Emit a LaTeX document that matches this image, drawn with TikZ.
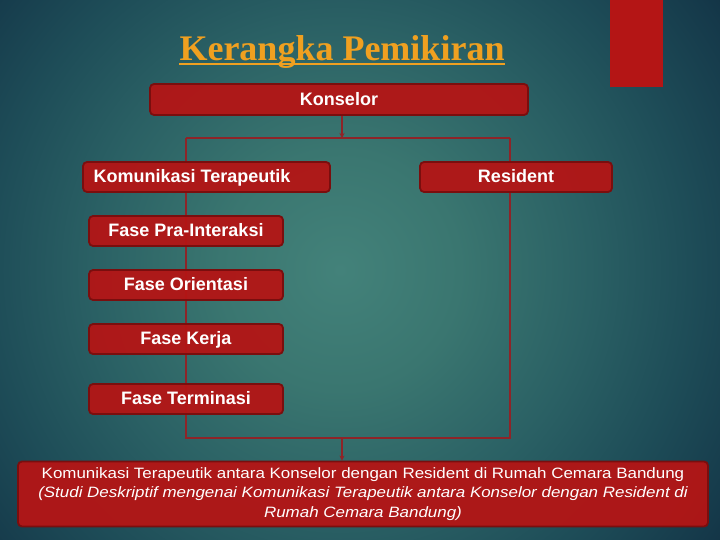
\documentclass[tikz,border=0pt]{standalone}
\usepackage{fontspec}
\setmainfont{Liberation Sans}
\newfontfamily\titlefont{Liberation Serif}
\newfontfamily\widesans[FakeStretch=1.13]{Liberation Sans}
\usetikzlibrary{arrows.meta}
\pgfdeclarelayer{back}
\pgfsetlayers{back,main}
\definecolor{bg0}{HTML}{43827A}
\definecolor{bg1}{HTML}{3A7670}
\definecolor{bg2}{HTML}{2A6064}
\definecolor{bg3}{HTML}{1E4D58}
\definecolor{bg4}{HTML}{15394A}
\definecolor{bg5}{HTML}{123244}
\definecolor{boxred}{HTML}{B41515}
\definecolor{boxedge}{HTML}{7A0E0E}
\definecolor{linered}{HTML}{8E2428}
\definecolor{titleorange}{HTML}{F0A020}
\pgfdeclareradialshading{bgshade}{\pgfpoint{0bp}{0bp}}{color(0bp)=(bg0); color(6.25bp)=(bg1); color(13bp)=(bg2); color(18.2bp)=(bg3); color(23.4bp)=(bg4); color(25bp)=(bg5); color(50bp)=(bg5)}
\tikzset{
  redbox/.style={draw=boxedge, line width=1.8pt, fill=boxred, fill opacity=0.95, text opacity=1,
    rounded corners=4pt, text=white, font=\fontsize{18}{21}\selectfont\bfseries, inner sep=0pt},
  onebox/.style={redbox, text height=12pt, text depth=0.5pt},
  conn/.style={draw=linered, line width=1.2pt},
  tip/.style={-{Stealth[length=5pt,width=5pt]}}
}
\begin{document}
\begin{tikzpicture}[x=1pt,y=-1pt]
\useasboundingbox (0,0) rectangle (720,540);
\begin{pgfonlayer}{back}
\begin{scope}
\clip (0,0) rectangle (720,540);
\fill[bg5] (0,0) rectangle (720,540);
\shade[shading=bgshade] (340,270) circle (480);
\end{scope}
\end{pgfonlayer}
% red bar
\fill[boxred] (610,0) rectangle (663,87);
% title
\node[anchor=base, text=titleorange, font=\titlefont\fontsize{36}{40}\selectfont\bfseries, inner sep=0pt] (title) at (342,61) {Kerangka Pemikiran};
\draw[titleorange, line width=2pt] ([yshift=-3pt]title.base west) -- ([yshift=-3pt]title.base east);
% boxes
\node[onebox, minimum width=378pt, minimum height=31pt] (konselor) at (339,99.5) {Konselor};
\node[onebox, minimum width=247pt, minimum height=30pt] (komter) at (206.5,177) {\makebox[247pt][c]{Komunikasi Terapeutik\hspace{29pt}}};
\node[onebox, minimum width=192pt, minimum height=30pt] (resident) at (516,177) {Resident};
\node[onebox, minimum width=194pt, minimum height=30pt] (pra) at (186,231) {Fase Pra-Interaksi};
\node[onebox, minimum width=194pt, minimum height=30pt] (orient) at (186,285) {Fase Orientasi};
\node[onebox, minimum width=194pt, minimum height=30pt] (kerja) at (186,339) {Fase Kerja};
\node[onebox, minimum width=194pt, minimum height=30pt] (termin) at (186,399) {Fase Terminasi};
\node[redbox, minimum width=690pt, minimum height=65pt, align=center,
  font=\widesans\fontsize{15}{19.3}\selectfont] (hasil) at (363,494)
  {Komunikasi Terapeutik antara Konselor dengan Resident di Rumah Cemara Bandung\\
   \itshape (Studi Deskriptif mengenai Komunikasi Terapeutik antara Konselor dengan Resident di\\
   \itshape Rumah Cemara Bandung)};
% junction coordinates
\coordinate (jtop) at (342,138);
\coordinate (jtl) at (186,138);
\coordinate (jtr) at (510,138);
\coordinate (jbl) at (186,438);
\coordinate (jbr) at (510,438);
\coordinate (jbot) at (342,438);
% connectors (behind the boxes)
\begin{pgfonlayer}{back}
\draw[conn, tip] (konselor.south -| jtop) -- (jtop);
\draw[conn] (jtl) -- (jtr);
\draw[conn] (jtl) -- (komter.north -| jtl);
\draw[conn] (jtr) -- (resident.north -| jtr);
\draw[conn] (komter.south -| jtl) -- (jbl) -- (jbr) -- (resident.south -| jbr);
\draw[conn, tip] (jbot) -- (hasil.north -| jbot);
\end{pgfonlayer}
\end{tikzpicture}
\end{document}
